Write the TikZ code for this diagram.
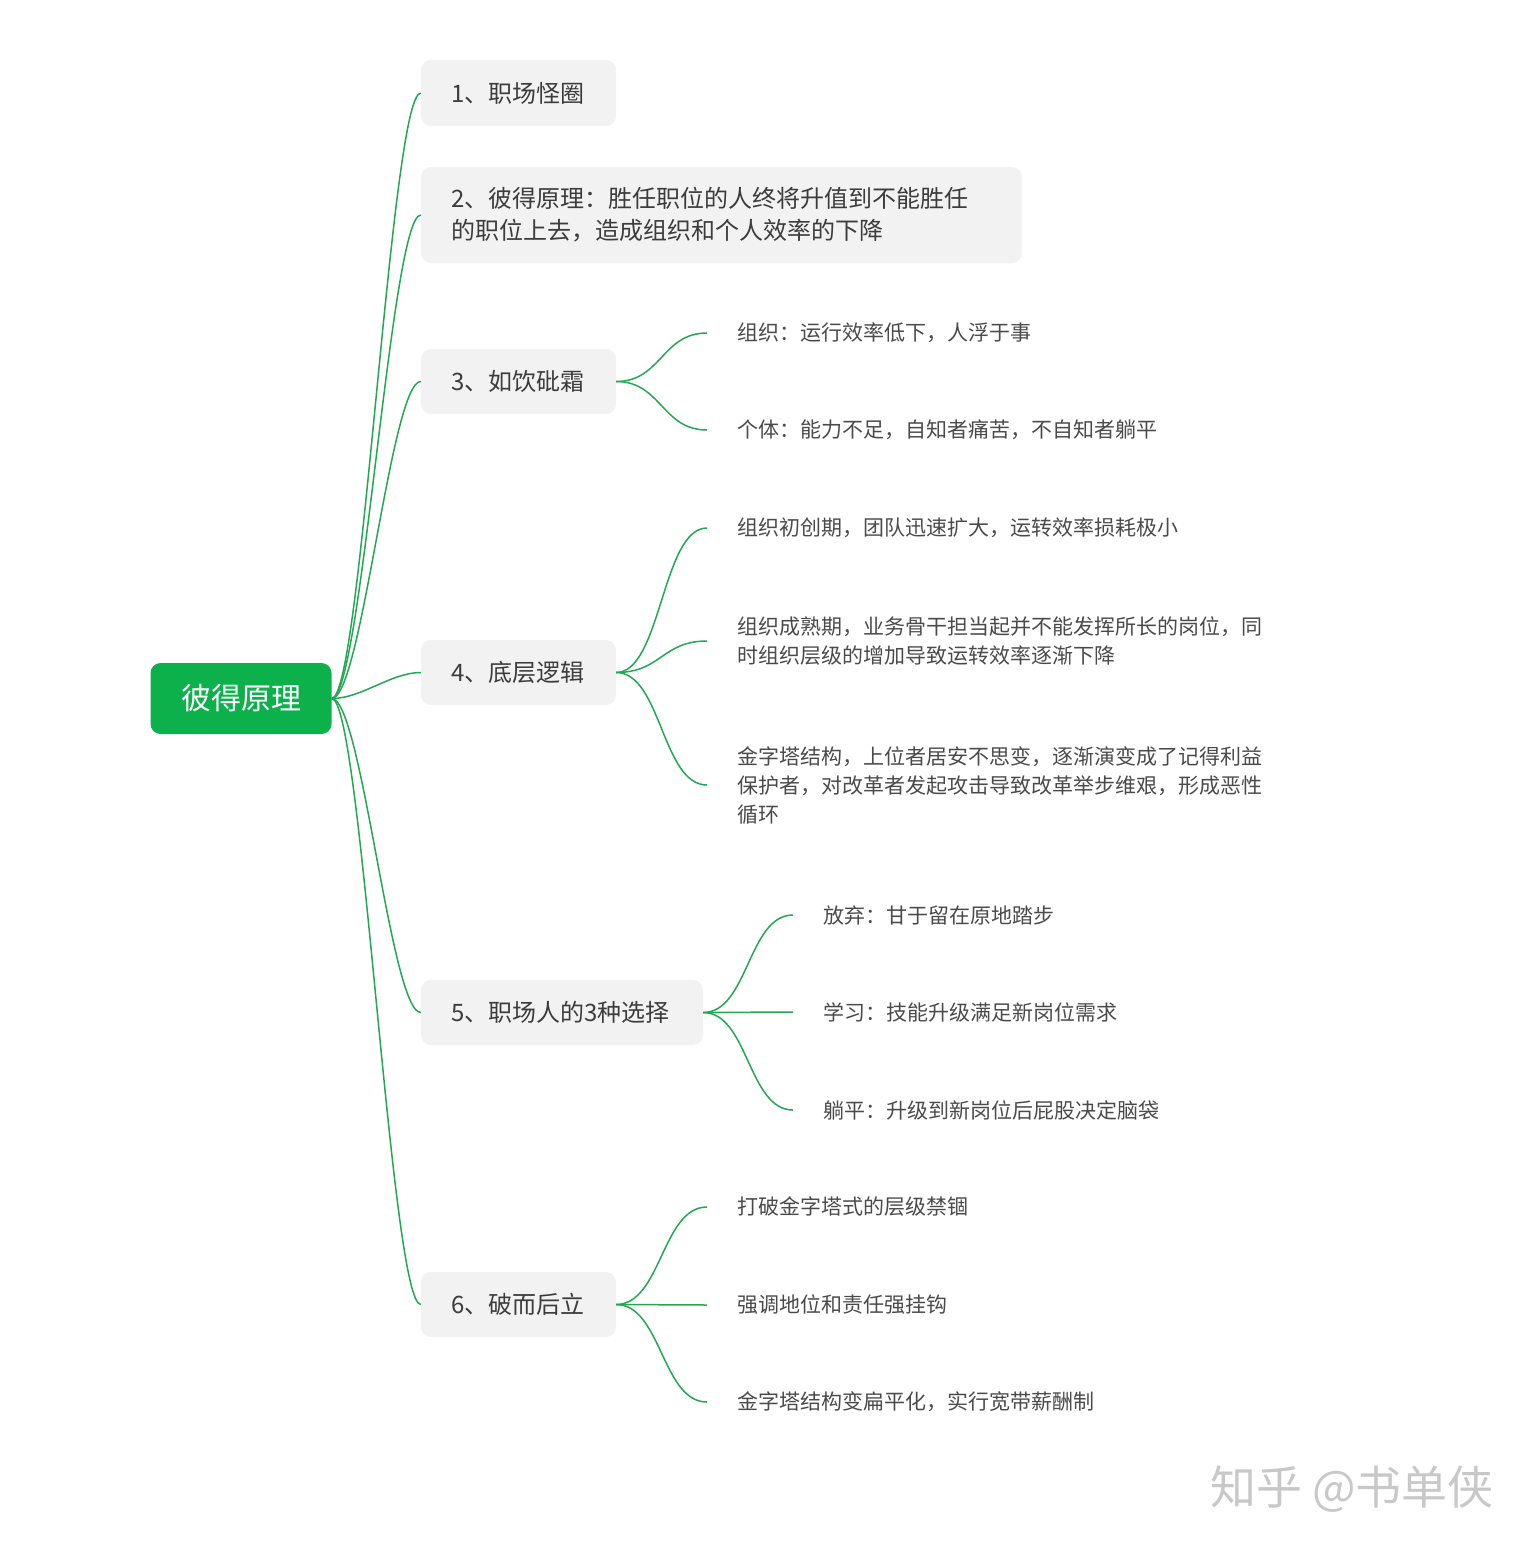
\documentclass[tikz,border=0pt]{standalone}
\usepackage{fontspec}
\setmainfont{Noto Sans CJK SC}
\definecolor{rootgreen}{HTML}{0DB14B}
\definecolor{boxgray}{HTML}{F2F2F2}
\definecolor{nodetext}{HTML}{3C3C3C}
\definecolor{leaftext}{HTML}{4A4A4A}
\definecolor{linkgreen}{HTML}{22A852}
\definecolor{wmgray}{HTML}{C8C8C8}
\begin{document}
\begin{tikzpicture}[x=1pt,y=-1pt,
  topic/.style={fill=boxgray, rounded corners=10pt, inner xsep=30pt, inner ysep=0pt,
    align=left, text=nodetext, font=\fontsize{24}{32}\selectfont, anchor=center},
  leaf/.style={inner xsep=30pt, inner ysep=0pt, align=left, text=leaftext,
    font=\fontsize{21}{29}\selectfont, anchor=west},
  link/.style={draw=linkgreen, line width=1.5pt}]
\useasboundingbox (0,0) rectangle (1533,1551);

% root
\node[fill=rootgreen, rounded corners=10pt, minimum width=181pt, minimum height=71pt,
      inner sep=0pt, text=white, font=\fontsize{30}{36}\selectfont] (root) at (241,698.5) {彼得原理};

% topics
\node[topic, text width=135pt, minimum height=66pt] (t1) at (518.5,93) {1、职场怪圈};
\node[topic, text width=541pt, minimum height=96pt] (t2) at (721.5,215)
  {2、彼得原理：胜任职位的人终将升值到不能胜任\\的职位上去，造成组织和个人效率的下降};
\node[topic, text width=135pt, minimum height=65pt] (t3) at (518.5,381.5) {3、如饮砒霜};
\node[topic, text width=135pt, minimum height=65pt] (t4) at (518.5,672.5) {4、底层逻辑};
\node[topic, text width=222pt, minimum height=65pt] (t5) at (562,1012.5) {5、职场人的3种选择};
\node[topic, text width=135pt, minimum height=65pt] (t6) at (518.5,1304.5) {6、破而后立};

% leaves
\node[leaf] (l31) at (707,333) {组织：运行效率低下，人浮于事};
\node[leaf] (l32) at (707,430) {个体：能力不足，自知者痛苦，不自知者躺平};
\node[leaf] (l41) at (707,528) {组织初创期，团队迅速扩大，运转效率损耗极小};
\node[leaf] (l42) at (707,641) {组织成熟期，业务骨干担当起并不能发挥所长的岗位，同\\时组织层级的增加导致运转效率逐渐下降};
\node[leaf] (l43) at (707,785) {金字塔结构，上位者居安不思变，逐渐演变成了记得利益\\保护者，对改革者发起攻击导致改革举步维艰，形成恶性\\循环};
\node[leaf] (l51) at (793,915) {放弃：甘于留在原地踏步};
\node[leaf] (l52) at (793,1012) {学习：技能升级满足新岗位需求};
\node[leaf] (l53) at (793,1110) {躺平：升级到新岗位后屁股决定脑袋};
\node[leaf] (l61) at (707,1207) {打破金字塔式的层级禁锢};
\node[leaf] (l62) at (707,1305) {强调地位和责任强挂钩};
\node[leaf] (l63) at (707,1402) {金字塔结构变扁平化，实行宽带薪酬制};

% root connectors
\foreach \t in {t1,t2,t3,t4,t5,t6}
  \draw[link] (root.east) .. controls +(30,0) and +(-30,0) .. (\t.west);

% leaf connectors
\foreach \a/\b in {t3/l31,t3/l32,t4/l41,t4/l42,t4/l43,t5/l51,t5/l52,t5/l53,t6/l61,t6/l62,t6/l63}
  \draw[link] (\a.east) .. controls +(45,0) and +(-45,0) .. (\b.west);

% watermark
\node[text=wmgray, inner sep=0pt, font=\fontsize{46}{50}\selectfont] (wm) at (1352,1489) {知乎 @书单侠};
\end{tikzpicture}
\end{document}
